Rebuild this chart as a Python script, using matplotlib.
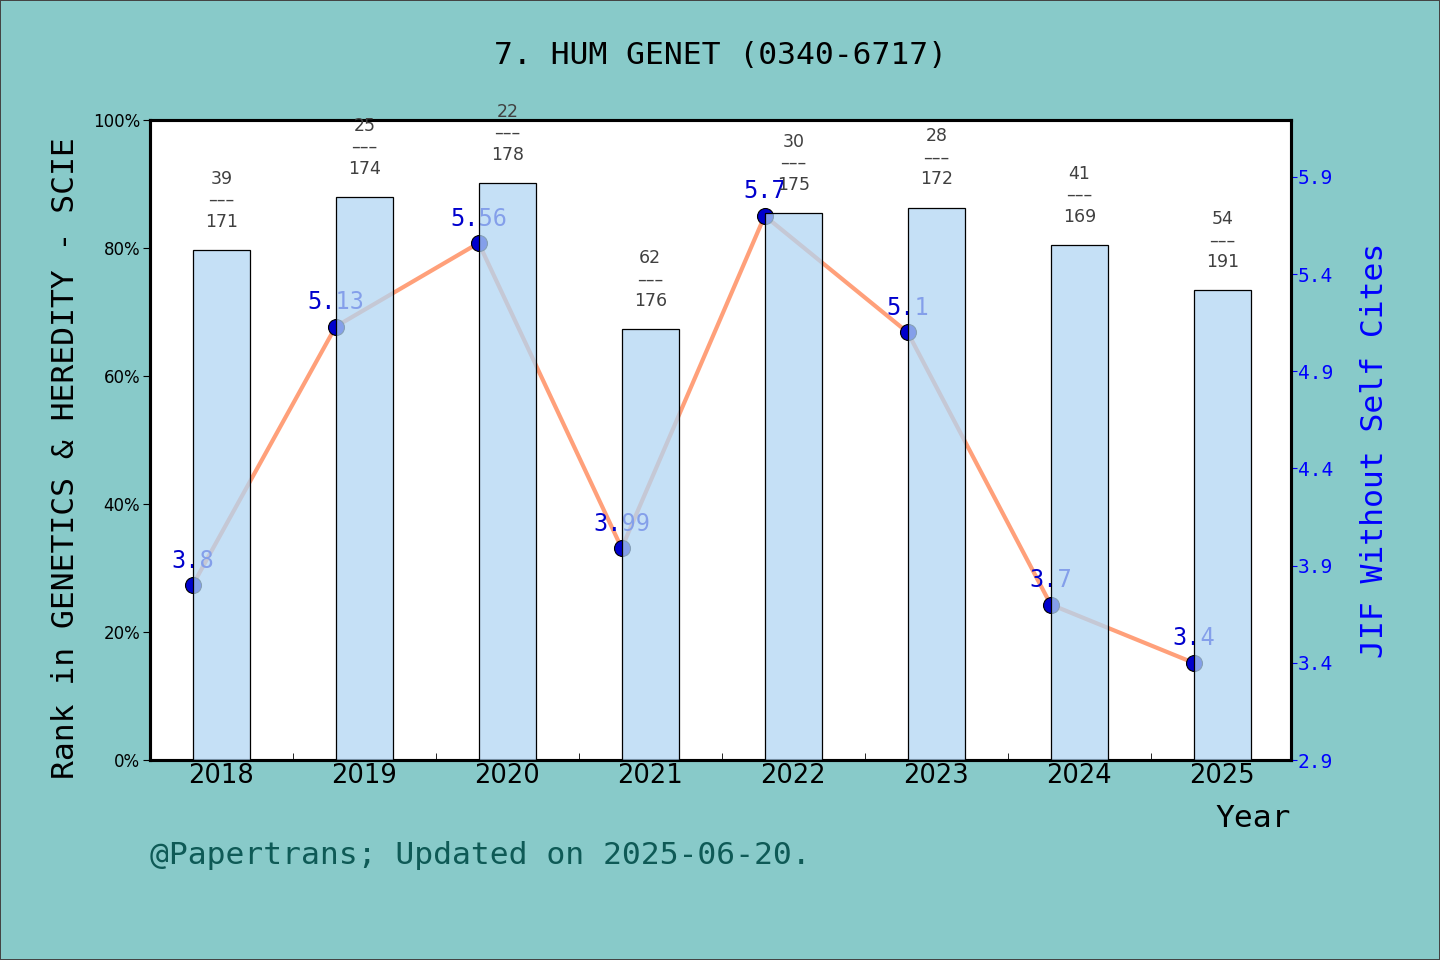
import matplotlib
matplotlib.use('Agg')
import matplotlib.pyplot as plt
from matplotlib.ticker import FuncFormatter, FixedLocator

# data
years = [2018, 2019, 2020, 2021, 2022, 2023, 2024, 2025]
rank_pct = [79.7, 88.0, 90.2, 67.3, 85.5, 86.3, 80.5, 73.4]
ranks = [39, 25, 22, 62, 30, 28, 41, 54]
totals = [171, 174, 178, 176, 175, 172, 169, 191]
jif = [3.8, 5.13, 5.56, 3.99, 5.7, 5.1, 3.7, 3.4]
jif_labels = ['3.8', '5.13', '5.56', '3.99', '5.7', '5.1', '3.7', '3.4']
jif_ticks = [2.9, 3.4, 3.9, 4.4, 4.9, 5.4, 5.9]
pct_ticks = [0, 20, 40, 60, 80, 100]

bg = '#88CAC9'
mono = 'DejaVu Sans Mono'
big = 22.6

fig = plt.figure(figsize=(14.4, 9.6), dpi=100, facecolor=bg,
                 edgecolor='#444444', linewidth=1.2)
ax1 = fig.add_axes([0.104, 0.2083, 0.7925, 0.6667])
ax2 = ax1.twinx()

# line on the twin axis, drawn under the bars
ax2.patch.set_visible(True)
ax2.set_facecolor('white')
ax2.plot(years, jif, color='#FFA07A', lw=3, marker='o', ms=11.5,
         mfc='#0000CD', mec='black', mew=0.8, zorder=2)
for x, v, s in zip(years, jif, jif_labels):
    ax2.annotate(s, (x, v), xytext=(0, 9), textcoords='offset points',
                 ha='center', va='bottom', color='#0000CD',
                 fontsize=17, family=mono)
ax2.set_ylim(2.9, 6.193)
ax2.yaxis.set_major_locator(FixedLocator(jif_ticks))
ax2.yaxis.set_major_formatter(FuncFormatter(lambda v, p: '%.1f' % v))
ax2.tick_params(axis='y', colors='blue', labelsize=14, length=4,
                direction='out', pad=1)
for t in ax2.get_yticklabels():
    t.set_family(mono)
ax2.set_ylabel('JIF Without Self Cites', color='blue', fontsize=big,
               family=mono)
ax2.yaxis.set_label_coords(1.0605, 0.484)

# bars on top with alpha
ax1.set_zorder(ax2.get_zorder() + 1)
ax1.patch.set_visible(False)
ax1.bar(years, rank_pct, width=0.4, align='edge',
        color=(178/255, 214/255, 244/255, 0.75), edgecolor='black',
        linewidth=0.9, zorder=3)
for x, h, r, n in zip(years, rank_pct, ranks, totals):
    ax1.text(x + 0.2, h + 3.0, '%d\n\u2013\u2013\u2013\n%d' % (r, n),
             ha='center', va='bottom', fontsize=12.5, color='#404040',
             linespacing=1.25, clip_on=False)

ax1.set_xlim(2017.7, 2025.68)
ax1.set_ylim(0, 100)
ax1.yaxis.set_major_locator(FixedLocator(pct_ticks))
ax1.yaxis.set_major_formatter(FuncFormatter(lambda v, p: '%d%%' % v))
ax1.tick_params(axis='y', labelsize=12, length=5, direction='out', pad=2)
ax1.set_xticks([y + 0.2 for y in years])
ax1.set_xticklabels([str(y) for y in years], fontsize=18.5)
ax1.tick_params(axis='x', which='major', length=0, pad=2)
ax1.set_xticks([y + 0.7 for y in years[:-1]], minor=True)
ax1.tick_params(axis='x', which='minor', length=5, direction='in')
ax1.set_ylabel('Rank in GENETICS & HEREDITY - SCIE', fontsize=big,
               family=mono)
ax1.yaxis.set_label_coords(-0.0613, 0.472)
ax1.set_xlabel('Year', fontsize=big, family=mono, loc='right', labelpad=11)

for ax in (ax1, ax2):
    for sp in ax.spines.values():
        sp.set_linewidth(2.2)
        sp.set_color('black')

fig.text(0.5, 0.942, '7. HUM GENET (0340-6717)', ha='center',
         va='center', fontsize=big, family=mono)
fig.text(0.104, 0.109, '@Papertrans; Updated on 2025-06-20.',
         ha='left', va='center', fontsize=big, family=mono,
         color='#0E5A56')

fig.savefig('out.png', dpi=100, facecolor=bg, edgecolor='#444444')
